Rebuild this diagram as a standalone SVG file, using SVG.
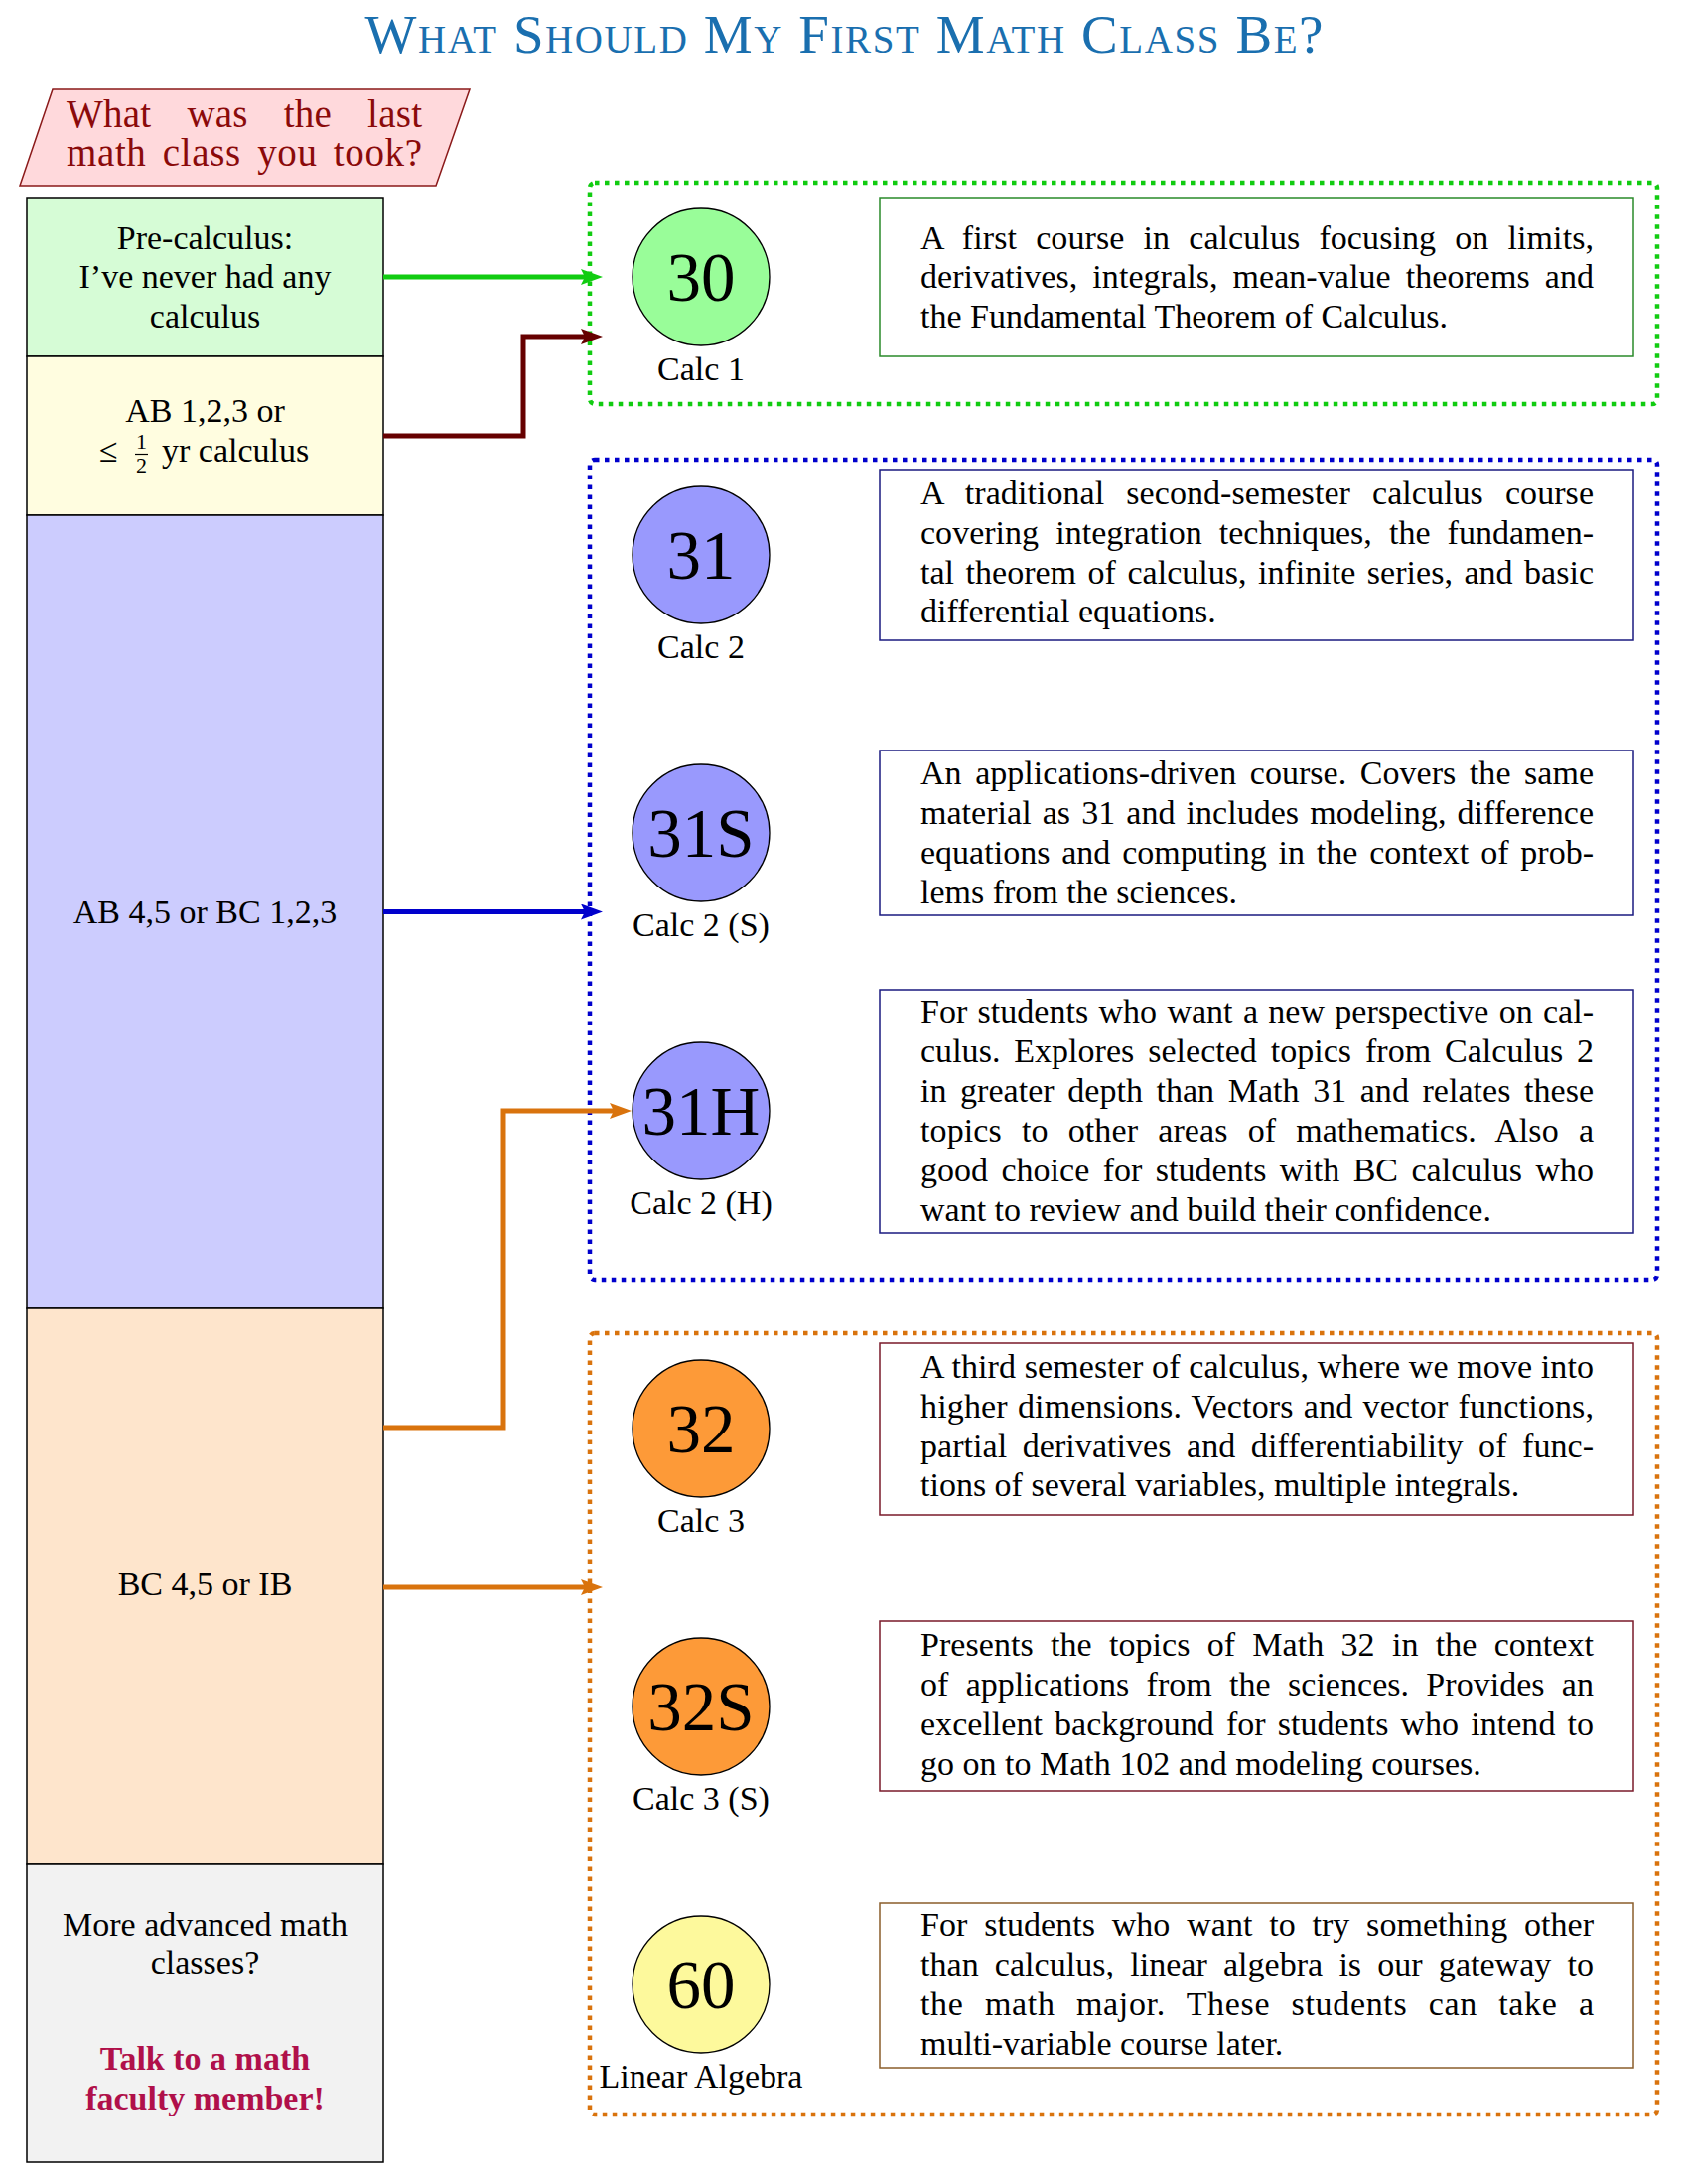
<svg xmlns="http://www.w3.org/2000/svg" width="1700" height="2200" viewBox="0 0 1700 2200">
<style>
text{font-family:"Liberation Serif","Times New Roman",serif;fill:#000}
.t34{font-size:34px}
.c{text-anchor:middle}
.num{font-size:69px;text-anchor:middle}
.lbl{font-size:34px;text-anchor:middle}
.desc{font-size:34px}
.lbox{stroke:#000;stroke-width:1.5}
.circ{stroke:#000;stroke-width:1.3}
.dbox{fill:none;stroke-width:4.5;stroke-dasharray:4.5 5.5}
.conn{fill:none;stroke-width:5}
</style>
<defs>
<marker id="ag" markerUnits="userSpaceOnUse" markerWidth="22" markerHeight="16" refX="11" refY="8" orient="auto"><path d="M0,0 L22,8 L0,16 L4,8 z" fill="#11cc11"/></marker>
<marker id="ar" markerUnits="userSpaceOnUse" markerWidth="22" markerHeight="16" refX="11" refY="8" orient="auto"><path d="M0,0 L22,8 L0,16 L4,8 z" fill="#660000"/></marker>
<marker id="ab" markerUnits="userSpaceOnUse" markerWidth="22" markerHeight="16" refX="11" refY="8" orient="auto"><path d="M0,0 L22,8 L0,16 L4,8 z" fill="#0000cc"/></marker>
<marker id="ao" markerUnits="userSpaceOnUse" markerWidth="22" markerHeight="16" refX="11" refY="8" orient="auto"><path d="M0,0 L22,8 L0,16 L4,8 z" fill="#d9730d"/></marker>
</defs>
<rect width="1700" height="2200" fill="#fff"/>

<g id="title"><text x="850" y="53" text-anchor="middle" style="font-size:55px;font-variant:small-caps;fill:#1a6faf" textLength="965" lengthAdjust="spacing">What Should My First Math Class Be?</text></g>

<g id="question">
<polygon points="53,90 473,90 439,187 20,187" fill="#ffd9dc" stroke="#8b1a1a" stroke-width="1.5"/>
<text x="67" y="128" style="font-size:39px;fill:#8b0a0a;word-spacing:26px" textLength="358" lengthAdjust="spacing">What was the last</text>
<text x="67" y="167" style="font-size:39px;fill:#8b0a0a;word-spacing:6px" textLength="358" lengthAdjust="spacing">math class you took?</text>
</g>

<g id="precalc">
<rect class="lbox" x="27" y="199" width="359" height="160" fill="#d6fcd6"/>
<text class="t34 c" x="206.5" y="251">Pre-calculus:</text>
<text class="t34 c" x="206.5" y="290">I’ve never had any</text>
<text class="t34 c" x="206.5" y="330">calculus</text>
</g>
<g id="ab123">
<rect class="lbox" x="27" y="359" width="359" height="160" fill="#fffde0"/>
<text class="t34 c" x="206.5" y="425">AB 1,2,3 or</text>
<text class="t34" x="100" y="465">≤</text>
<text x="142.5" y="452" text-anchor="middle" style="font-size:22px">1</text>
<line x1="136" y1="457.5" x2="149" y2="457.5" stroke="#000" stroke-width="1.2"/>
<text x="142.5" y="476" text-anchor="middle" style="font-size:22px">2</text>
<text class="t34" x="163" y="465">yr calculus</text>
</g>
<g id="ab45">
<rect class="lbox" x="27" y="519" width="359" height="799" fill="#ccccfe"/>
<text class="t34 c" x="206.5" y="930">AB 4,5 or BC 1,2,3</text>
</g>
<g id="bc45">
<rect class="lbox" x="27" y="1318" width="359" height="560" fill="#fee5cc"/>
<text class="t34 c" x="206.5" y="1607">BC 4,5 or IB</text>
</g>
<g id="advanced">
<rect class="lbox" x="27" y="1878" width="359" height="300" fill="#f2f2f2"/>
<text class="t34 c" x="206.5" y="1950">More advanced math</text>
<text class="t34 c" x="206.5" y="1988">classes?</text>
<text class="t34 c" x="206.5" y="2085" style="font-weight:bold;fill:#b0104a">Talk to a math</text>
<text class="t34 c" x="206.5" y="2125" style="font-weight:bold;fill:#b0104a">faculty member!</text>
</g>

<g id="group-calc1"><rect class="dbox" x="594" y="184" width="1075" height="223" rx="5" stroke="#11cc11"/></g>
<g id="group-calc2"><rect class="dbox" x="594" y="463" width="1075" height="826" rx="5" stroke="#0000cc"/></g>
<g id="group-calc3"><rect class="dbox" x="594" y="1343" width="1075" height="787" rx="5" stroke="#d9730d"/></g>

<g id="c30">
<circle class="circ" cx="706" cy="279" r="69" fill="#99fd99"/>
<text class="num" x="706" y="303">30</text>
<text class="lbl" x="706" y="383">Calc 1</text>
</g>
<g id="c31">
<circle class="circ" cx="706" cy="559" r="69" fill="#9999fd"/>
<text class="num" x="706" y="583">31</text>
<text class="lbl" x="706" y="663">Calc 2</text>
</g>
<g id="c31S">
<circle class="circ" cx="706" cy="839" r="69" fill="#9999fd"/>
<text class="num" x="706" y="863">31S</text>
<text class="lbl" x="706" y="943">Calc 2 (S)</text>
</g>
<g id="c31H">
<circle class="circ" cx="706" cy="1119" r="69" fill="#9999fd"/>
<text class="num" x="706" y="1143">31H</text>
<text class="lbl" x="706" y="1223">Calc 2 (H)</text>
</g>
<g id="c32">
<circle class="circ" cx="706" cy="1439" r="69" fill="#fd9a38"/>
<text class="num" x="706" y="1463">32</text>
<text class="lbl" x="706" y="1543">Calc 3</text>
</g>
<g id="c32S">
<circle class="circ" cx="706" cy="1719" r="69" fill="#fd9a38"/>
<text class="num" x="706" y="1743">32S</text>
<text class="lbl" x="706" y="1823">Calc 3 (S)</text>
</g>
<g id="c60">
<circle class="circ" cx="706" cy="1999" r="69" fill="#fdf99c"/>
<text class="num" x="706" y="2023">60</text>
<text class="lbl" x="706" y="2103">Linear Algebra</text>
</g>

<g id="d30">
<rect x="886" y="199" width="759" height="160" fill="none" stroke="#2a8a2a" stroke-width="1.5"/>
<text class="desc" x="927" y="251" style="word-spacing:10.5px" textLength="678" lengthAdjust="spacing">A first course in calculus focusing on limits,</text>
<text class="desc" x="927" y="290" style="word-spacing:6.5px" textLength="678" lengthAdjust="spacing">derivatives, integrals, mean-value theorems and</text>
<text class="desc" x="927" y="330">the Fundamental Theorem of Calculus.</text>
</g>
<g id="d31">
<rect x="886" y="473" width="759" height="172" fill="none" stroke="#1a1a80" stroke-width="1.5"/>
<text class="desc" x="927" y="508" style="word-spacing:13.5px" textLength="678" lengthAdjust="spacing">A traditional second-semester calculus course</text>
<text class="desc" x="927" y="548" style="word-spacing:8.5px" textLength="678" lengthAdjust="spacing">covering integration techniques, the fundamen-</text>
<text class="desc" x="927" y="588" style="word-spacing:3px" textLength="678" lengthAdjust="spacing">tal theorem of calculus, infinite series, and basic</text>
<text class="desc" x="927" y="627">differential equations.</text>
</g>
<g id="d31S">
<rect x="886" y="756" width="759" height="166" fill="none" stroke="#1a1a80" stroke-width="1.5"/>
<text class="desc" x="927" y="790" style="word-spacing:5px" textLength="678" lengthAdjust="spacing">An applications-driven course. Covers the same</text>
<text class="desc" x="927" y="830" style="word-spacing:2.5px" textLength="678" lengthAdjust="spacing">material as 31 and includes modeling, difference</text>
<text class="desc" x="927" y="870" style="word-spacing:3.3px" textLength="678" lengthAdjust="spacing">equations and computing in the context of prob-</text>
<text class="desc" x="927" y="910">lems from the sciences.</text>
</g>
<g id="d31H">
<rect x="886" y="997" width="759" height="245" fill="none" stroke="#1a1a80" stroke-width="1.5"/>
<text class="desc" x="927" y="1030" style="word-spacing:1.8px" textLength="678" lengthAdjust="spacing">For students who want a new perspective on cal-</text>
<text class="desc" x="927" y="1070" style="word-spacing:5.3px" textLength="678" lengthAdjust="spacing">culus. Explores selected topics from Calculus 2</text>
<text class="desc" x="927" y="1110" style="word-spacing:5px" textLength="678" lengthAdjust="spacing">in greater depth than Math 31 and relates these</text>
<text class="desc" x="927" y="1150" style="word-spacing:11.5px" textLength="678" lengthAdjust="spacing">topics to other areas of mathematics. Also a</text>
<text class="desc" x="927" y="1190" style="word-spacing:4.8px" textLength="678" lengthAdjust="spacing">good choice for students with BC calculus who</text>
<text class="desc" x="927" y="1230">want to review and build their confidence.</text>
</g>
<g id="d32">
<rect x="886" y="1353" width="759" height="173" fill="none" stroke="#7a1a2a" stroke-width="1.5"/>
<text class="desc" x="927" y="1388" textLength="678" lengthAdjust="spacing">A third semester of calculus, where we move into</text>
<text class="desc" x="927" y="1428" style="word-spacing:1.5px" textLength="678" lengthAdjust="spacing">higher dimensions. Vectors and vector functions,</text>
<text class="desc" x="927" y="1468" style="word-spacing:7px" textLength="678" lengthAdjust="spacing">partial derivatives and differentiability of func-</text>
<text class="desc" x="927" y="1507">tions of several variables, multiple integrals.</text>
</g>
<g id="d32S">
<rect x="886" y="1633" width="759" height="171" fill="none" stroke="#7a1a2a" stroke-width="1.5"/>
<text class="desc" x="927" y="1668" style="word-spacing:8.7px" textLength="678" lengthAdjust="spacing">Presents the topics of Math 32 in the context</text>
<text class="desc" x="927" y="1708" style="word-spacing:8.7px" textLength="678" lengthAdjust="spacing">of applications from the sciences. Provides an</text>
<text class="desc" x="927" y="1748" style="word-spacing:3.6px" textLength="678" lengthAdjust="spacing">excellent background for students who intend to</text>
<text class="desc" x="927" y="1788">go on to Math 102 and modeling courses.</text>
</g>
<g id="d60">
<rect x="886" y="1917" width="759" height="166" fill="none" stroke="#8b5e2b" stroke-width="1.5"/>
<text class="desc" x="927" y="1950" style="word-spacing:8.2px" textLength="678" lengthAdjust="spacing">For students who want to try something other</text>
<text class="desc" x="927" y="1990" style="word-spacing:7.6px" textLength="678" lengthAdjust="spacing">than calculus, linear algebra is our gateway to</text>
<text class="desc" x="927" y="2030" style="word-spacing:12.2px" textLength="678" lengthAdjust="spacing">the math major. These students can take a</text>
<text class="desc" x="927" y="2070">multi-variable course later.</text>
</g>

<g id="connectors">
<path class="conn" d="M386,279 H596" stroke="#11cc11" marker-end="url(#ag)"/>
<path class="conn" d="M386,439 H527 V339 H596" stroke="#660000" marker-end="url(#ar)"/>
<path class="conn" d="M386,918.5 H596" stroke="#0000cc" marker-end="url(#ab)"/>
<path class="conn" d="M386,1438 H507 V1119 H625" stroke="#d9730d" marker-end="url(#ao)"/>
<path class="conn" d="M386,1599 H596" stroke="#d9730d" marker-end="url(#ao)"/>
</g>
</svg>
